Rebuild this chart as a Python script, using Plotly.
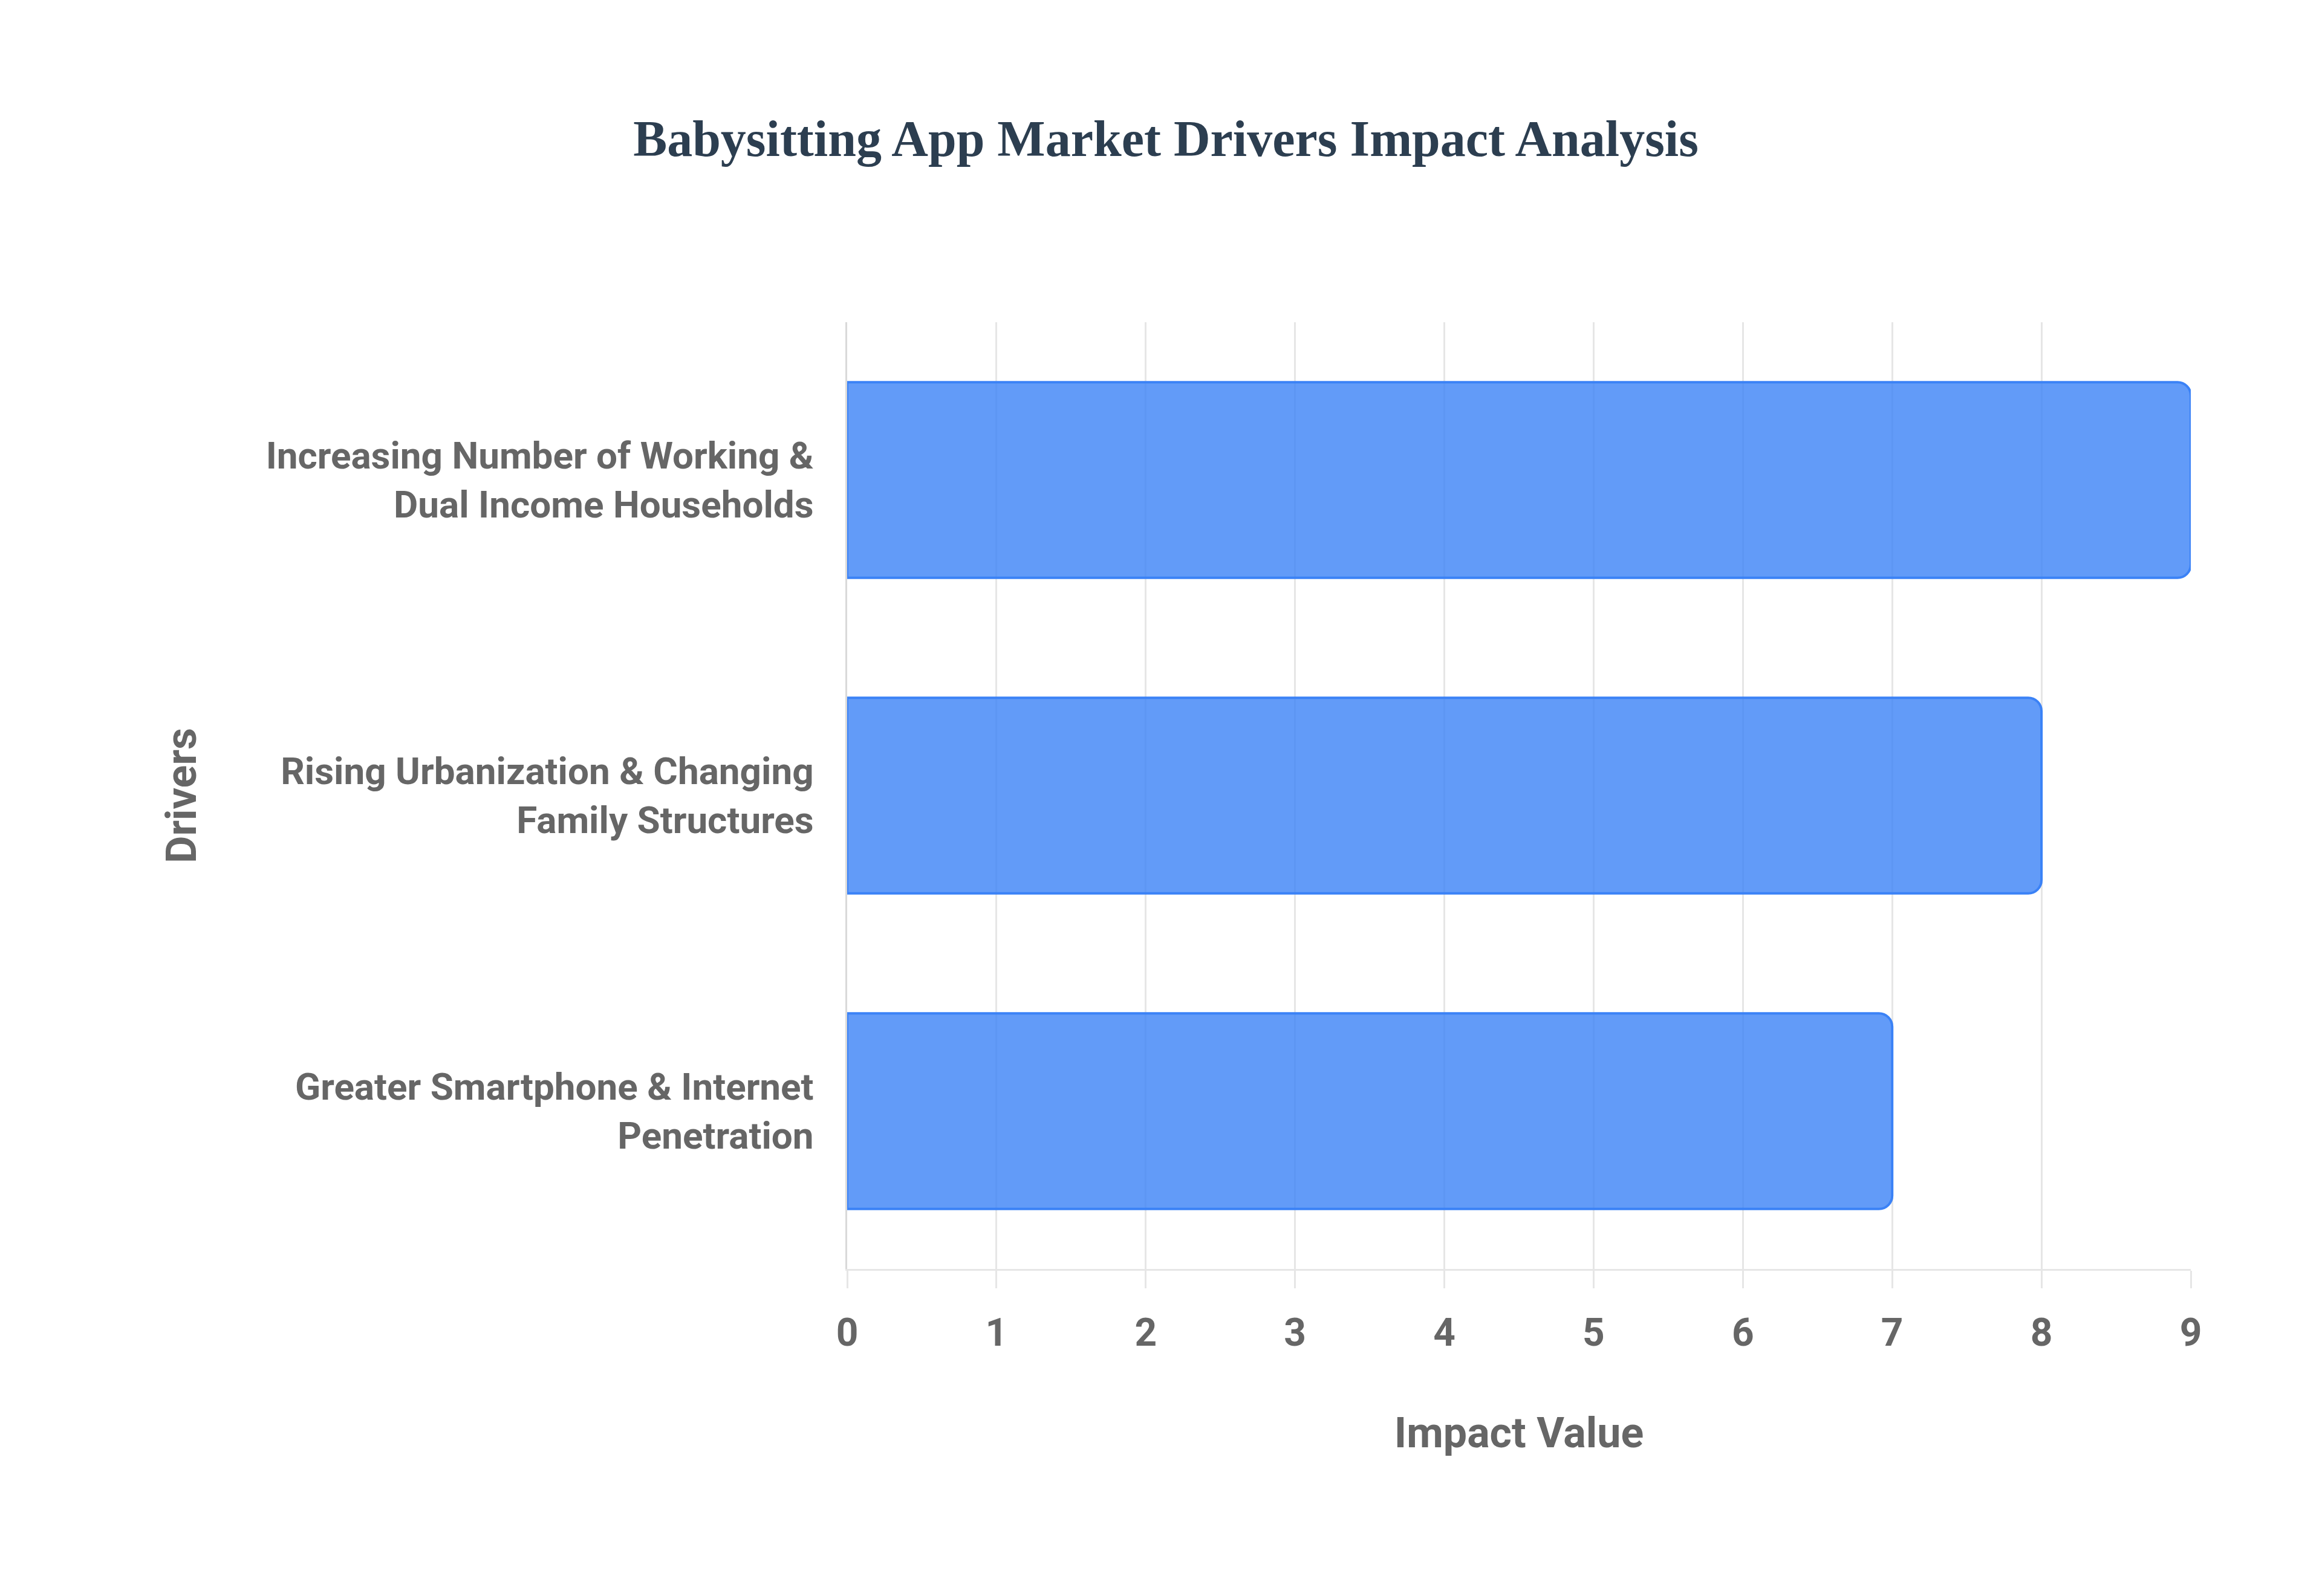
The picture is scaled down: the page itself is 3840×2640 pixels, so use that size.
import plotly.graph_objects as go

# ---- data ----
drivers = [
    "Increasing Number of Working &<br>Dual Income Households",
    "Rising Urbanization & Changing<br>Family Structures",
    "Greater Smartphone & Internet<br>Penetration",
]
impact_values = [9, 8, 7]
x_ticks = [0, 1, 2, 3, 4, 5, 6, 7, 8, 9]

title_text = "Babysitting App Market Drivers Impact Analysis"
x_title = "Impact Value"
y_title = "Drivers"

W, H = 3840, 2640
OFF = 8  # page body margin
GRAY = "#666666"
GRID = "#e6e6e6"
SANS = "Roboto, Liberation Sans, Arial, sans-serif"

fig = go.Figure()
fig.add_trace(go.Bar(
    x=impact_values,
    y=drivers,
    orientation="h",
    marker=dict(
        color="rgba(59,130,246,0.8)",
        line=dict(color="rgb(59,130,246)", width=4),
        cornerradius=22,
    ),
    hoverinfo="x+y",
))

fig.update_layout(
    width=W, height=H, autosize=False,
    paper_bgcolor="white", plot_bgcolor="white",
    margin=dict(l=1401 - OFF, r=W - (3623 - OFF), t=533 - OFF, b=H - (2099 - OFF), pad=0),
    bargap=0.38,
    showlegend=False,
    title=dict(
        text=title_text,
        x=0.5, xanchor="center", xref="container",
        y=1 - (229 - OFF) / H, yanchor="middle", yref="container",
        font=dict(family="Liberation Serif, Times New Roman, serif", size=84,
                  color="#2c3e50", weight=700),
    ),
    xaxis=dict(
        range=[0, 9], tickvals=x_ticks, ticktext=[str(v) for v in x_ticks],
        showgrid=True, gridcolor=GRID, gridwidth=3,
        zeroline=False,
        showline=True, linecolor=GRID, linewidth=3,
        ticks="outside", ticklen=29, tickwidth=3, tickcolor=GRID,
        ticklabelstandoff=18,
        tickfont=dict(family=SANS, size=64, color=GRAY, weight=700),
        title=dict(text=x_title, standoff=105,
                   font=dict(family=SANS, size=70, color=GRAY, weight=700)),
        automargin=False,
    ),
    yaxis=dict(
        autorange="reversed",
        showgrid=False, zeroline=False,
        showline=True, linecolor="#d9d9d9", linewidth=3,
        ticks="", ticklabelstandoff=40,
        tickfont=dict(family=SANS, size=62, color=GRAY, weight=700),
        title=dict(text=y_title, standoff=93,
                   font=dict(family=SANS, size=70, color=GRAY, weight=700)),
        automargin=False,
    ),
)

fig.write_html("out.html")
